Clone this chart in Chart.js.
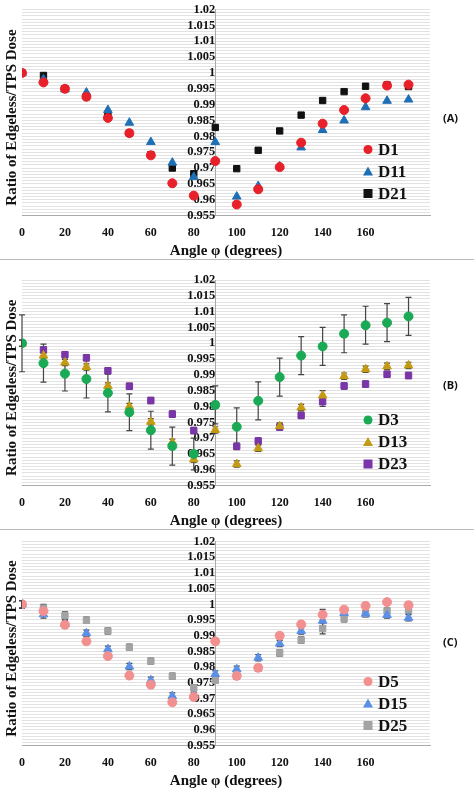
<!DOCTYPE html>
<html>
<head>
<meta charset="utf-8">
<script src="https://cdn.jsdelivr.net/npm/chart.js@4.4.1/dist/chart.umd.min.js"></script>
<style>
  body { margin: 0; background: #fff; width: 474px; height: 790px; position: relative; overflow: hidden; }
  .panel { position: absolute; left: 0; width: 474px; }
  .sep { position: absolute; left: 0; width: 474px; height: 1px; background: #bbb; }
  .tag { position: absolute; left: 443px; font: bold 11px "Open Sans", sans-serif; color: #111; }
</style>
</head>
<body>
<div class="panel" style="top:0;height:260px"><canvas id="chartA"></canvas></div>
<div class="sep" style="top:259px"></div>
<div class="panel" style="top:262px;height:268px"><canvas id="chartB"></canvas></div>
<div class="sep" style="top:529px"></div>
<div class="panel" style="top:532px;height:258px"><canvas id="chartC"></canvas></div>
<div class="tag" style="top:110px">(A)</div>
<div class="tag" style="top:377px">(B)</div>
<div class="tag" style="top:634px">(C)</div>
<script>
const angles = [0, 10, 20, 30, 40, 50, 60, 70, 80, 90, 100, 110, 120, 130, 140, 150, 160, 170, 180];

// panel A
const d1 = [1.0, 0.997, 0.995, 0.9925, 0.9858, 0.981, 0.974, 0.9652, 0.9613, 0.9722, 0.9585, 0.9633, 0.9703, 0.978, 0.984, 0.9883, 0.992, 0.996, 0.9963];
const d11 = [1.0, 0.998, 0.9948, 0.9938, 0.9883, 0.9843, 0.9782, 0.9717, 0.9672, 0.9782, 0.961, 0.9643, 0.9705, 0.9765, 0.982, 0.985, 0.9892, 0.9912, 0.9916];
const d21 = [1.0, 0.9992, 0.995, 0.9925, 0.9868, 0.981, 0.9742, 0.970, 0.9682, 0.9828, 0.9698, 0.9756, 0.9817, 0.9867, 0.9913, 0.9941, 0.9958, 0.9962, 0.9957];

// panel B
const d3 = [1.0, 0.9937, 0.9904, 0.9887, 0.9843, 0.9782, 0.9725, 0.9675, 0.9650, 0.9805, 0.9736, 0.9818, 0.9893, 0.9961, 0.9990, 1.0030, 1.0057, 1.0065, 1.0085];
const d3Err = [0.009, 0.006, 0.0055, 0.006, 0.006, 0.0058, 0.006, 0.006, 0.005, 0.006, 0.006, 0.006, 0.006, 0.006, 0.006, 0.006, 0.006, 0.006, 0.006];
const d13 = [1.0, 0.9961, 0.9939, 0.9925, 0.9865, 0.980, 0.9752, 0.9687, 0.9633, 0.9726, 0.9618, 0.9668, 0.9738, 0.9797, 0.9835, 0.9896, 0.9918, 0.9927, 0.993];
const d23 = [1.0, 0.9979, 0.9964, 0.9954, 0.9913, 0.9864, 0.9819, 0.9776, 0.9724, 0.9805, 0.9674, 0.9691, 0.9735, 0.9772, 0.9815, 0.9865, 0.9871, 0.9902, 0.9898];
const smallErrB = [0.001, 0.001, 0.001, 0.001, 0.001, 0.001, 0.001, 0.001, 0.001, 0.001, 0.001, 0.001, 0.001, 0.001, 0.0015, 0.001, 0.001, 0.001, 0.001];

// panel C
const d5 = [1.0, 0.9978, 0.9935, 0.9882, 0.9835, 0.9773, 0.9744, 0.9688, 0.9705, 0.9882, 0.9772, 0.9798, 0.990, 0.9936, 0.9967, 0.9983, 0.9995, 1.0007, 0.9997];
const d15 = [1.0, 0.9968, 0.9937, 0.9908, 0.9857, 0.9802, 0.9758, 0.9708, 0.9708, 0.9778, 0.9793, 0.983, 0.9875, 0.9915, 0.9948, 0.9972, 0.997, 0.9966, 0.9957];
const d25 = [1.0, 0.9988, 0.9964, 0.9949, 0.9915, 0.9863, 0.9819, 0.9771, 0.9734, 0.9758, 0.9772, 0.9796, 0.9845, 0.9886, 0.9923, 0.9954, 0.9969, 0.9979, 0.9982];
const smallErrC = [0.0012, 0.0012, 0.0012, 0.001, 0.001, 0.001, 0.001, 0.001, 0.001, 0.001, 0.001, 0.001, 0.001, 0.001, 0.0017, 0.001, 0.001, 0.001, 0.001];

const yMin = 0.955, yMax = 1.02;
const serif = '"Liberation Serif", "DejaVu Serif", serif';

const toPoints = (vals) => vals.map((v, i) => ({ x: angles[i], y: v }));

const errorBars = {
    id: 'errorBars',
    beforeDatasetsDraw(chart) {
        const { ctx, scales: { x, y } } = chart;
        ctx.save();
        ctx.strokeStyle = '#444';
        ctx.lineWidth = 1.2;
        chart.data.datasets.forEach((ds) => {
            if (!ds.err) return;
            ds.data.forEach((p, i) => {
                const px = x.getPixelForValue(p.x);
                const top = y.getPixelForValue(p.y + ds.err[i]);
                const bot = y.getPixelForValue(p.y - ds.err[i]);
                ctx.beginPath();
                ctx.moveTo(px, top); ctx.lineTo(px, bot);
                ctx.moveTo(px - 3, top); ctx.lineTo(px + 3, top);
                ctx.moveTo(px - 3, bot); ctx.lineTo(px + 3, bot);
                ctx.stroke();
            });
        });
        ctx.restore();
    }
};

const insideLegend = {
    id: 'insideLegend',
    afterDraw(chart) {
        const { ctx, chartArea } = chart;
        ctx.save();
        ctx.font = 'bold 17px ' + serif;
        ctx.textBaseline = 'middle';
        chart.data.datasets.forEach((ds, i) => {
            const lx = chartArea.right - 62;
            const ly = chartArea.top + 140 + i * 22;
            ctx.fillStyle = ds.backgroundColor;
            ctx.beginPath();
            if (ds.pointStyle === 'circle') {
                ctx.arc(lx, ly, 4.5, 0, Math.PI * 2);
            } else if (ds.pointStyle === 'triangle') {
                ctx.moveTo(lx, ly - 5); ctx.lineTo(lx + 5, ly + 4); ctx.lineTo(lx - 5, ly + 4); ctx.closePath();
            } else {
                ctx.rect(lx - 4.5, ly - 4.5, 9, 9);
            }
            ctx.fill();
            ctx.fillStyle = '#111';
            ctx.fillText(ds.label, lx + 10, ly + 1);
        });
        ctx.restore();
    }
};

const yTitle = {
    id: 'yTitle',
    afterDraw(chart) {
        const { ctx, chartArea } = chart;
        ctx.save();
        ctx.translate(12, (chartArea.top + chartArea.bottom) / 2 + 5);
        ctx.rotate(-Math.PI / 2);
        ctx.font = 'bold 15px ' + serif;
        ctx.fillStyle = '#111';
        ctx.textAlign = 'center';
        ctx.textBaseline = 'middle';
        ctx.fillText('Ratio of Edgeless/TPS Dose', 0, 0);
        ctx.restore();
    }
};

function makeChart(id, series, padTop) {
    const datasets = series.map((s) => ({
        label: s.label,
        data: toPoints(s.values),
        err: s.err,
        backgroundColor: s.color,
        borderColor: s.color,
        pointStyle: s.style,
        pointRadius: s.style === 'triangle' ? 5 : 4.5,
        showLine: false
    }));
    return new Chart(document.getElementById(id), {
        type: 'scatter',
        data: { datasets },
        options: {
            responsive: true,
            maintainAspectRatio: false,
            animation: false,
            layout: { padding: { left: 22, right: 44, top: padTop, bottom: 0 } },
            plugins: { legend: { display: false }, tooltip: { enabled: false } },
            scales: {
                x: {
                    type: 'linear', min: 0, max: 190,
                    ticks: {
                        stepSize: 20,
                        autoSkip: false,
                        maxRotation: 0,
                        padding: 2,
                        color: '#111',
                        font: { family: serif, size: 12, weight: 'bold' },
                        callback: (v) => (v % 20 === 0 && v <= 180 ? v : '')
                    },
                    grid: { display: false },
                    border: { color: '#aaa' },
                    title: { display: true, text: 'Angle φ (degrees)', color: '#111', font: { family: serif, size: 15, weight: 'bold' }, padding: 0 }
                },
                y: {
                    type: 'linear', min: yMin, max: yMax,
                    position: { x: 90 },
                    ticks: {
                        stepSize: 0.001,
                        autoSkip: false,
                        maxTicksLimit: 100,
                        padding: 2,
                        color: '#111',
                        font: { family: serif, size: 12.5, weight: 'bold' },
                        callback: (v) => (Math.round(v * 1000) % 5 === 0 ? String(Number(v.toFixed(3))) : '')
                    },
                    grid: { color: '#e2e2e2', tickLength: 3 },
                    border: { color: '#aaa' }
                }
            }
        },
        plugins: [errorBars, insideLegend, yTitle]
    });
}

makeChart('chartA', [
    { label: 'D1', values: d1, color: '#e8202a', style: 'circle' },
    { label: 'D11', values: d11, color: '#1f6fb5', style: 'triangle' },
    { label: 'D21', values: d21, color: '#111111', style: 'rect' }
], 6);

makeChart('chartB', [
    { label: 'D3', values: d3, err: d3Err, color: '#1aaa55', style: 'circle' },
    { label: 'D13', values: d13, err: smallErrB, color: '#c49a12', style: 'triangle' },
    { label: 'D23', values: d23, err: smallErrB, color: '#7a35a8', style: 'rect' }
], 18);

makeChart('chartC', [
    { label: 'D5', values: d5, err: smallErrC, color: '#f29090', style: 'circle' },
    { label: 'D15', values: d15, err: smallErrC, color: '#5b8fe6', style: 'triangle' },
    { label: 'D25', values: d25, err: smallErrC, color: '#a3a3a3', style: 'rect' }
], 7);
</script>
</body>
</html>
